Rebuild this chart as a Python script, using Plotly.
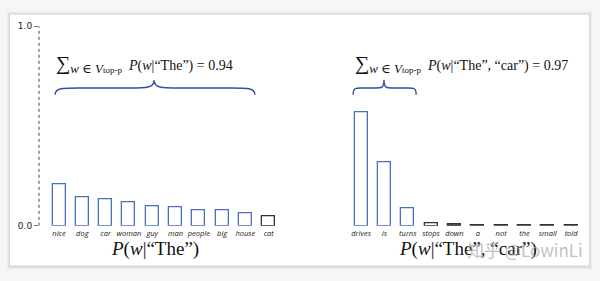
import plotly.graph_objects as go

W, H = 600, 281

left_words = ["nice", "dog", "car", "woman", "guy", "man", "people", "big", "house", "cat"]
left_probs = [0.21, 0.145, 0.135, 0.12, 0.10, 0.095, 0.08, 0.08, 0.065, 0.05]
left_in_top_p = [True] * 9 + [False]

right_words = ["drives", "is", "turns", "stops", "down", "a", "not", "the", "small", "told"]
right_probs = [0.57, 0.32, 0.09, 0.015, 0.01, 0.004, 0.004, 0.004, 0.004, 0.004]
right_in_top_p = [True] * 3 + [False] * 7

SUM = ("<span style='font-size:20px'>∑</span>"
       "<sub><span style='font-size:13px'><i>w</i> ∈ <i>V</i></span>"
       "<span style='font-size:9px'>top-p</span></sub>  ")
left_formula = SUM + "<i>P</i>(<i>w</i>|“The”) = 0.94"
right_formula = SUM + "<i>P</i>(<i>w</i>|“The”, “car”) = 0.97"
left_title = "<i>P</i>(<i>w</i>|“The”)"
right_title = "<i>P</i>(<i>w</i>|“The”, “car”)"

BLUE = "#4a6fbf"
BRACE = "#2d52a0"
DARK = "#333333"


def px(x):
    return x / W


def py(y):
    return 1 - y / H


def bar_styles(flags, words):
    lines, fills = [], []
    for i, f in enumerate(flags):
        if f:
            lines.append(BLUE)
            fills.append("white")
        else:
            lines.append(DARK)
            fills.append("#555555" if words[i] == "down" else "white")
    return lines, fills


fig = go.Figure()

ll, lf = bar_styles(left_in_top_p, left_words)
fig.add_trace(go.Bar(x=list(range(len(left_words))), y=left_probs, width=0.56,
                     marker=dict(color=lf, line=dict(color=ll, width=1.3)),
                     xaxis="x", yaxis="y", showlegend=False, hoverinfo="skip"))
rl, rf = bar_styles(right_in_top_p, right_words)
fig.add_trace(go.Bar(x=list(range(len(right_words))), y=right_probs, width=0.56,
                     marker=dict(color=rf, line=dict(color=rl, width=1.3)),
                     xaxis="x2", yaxis="y2", showlegend=False, hoverinfo="skip"))

ydom = [py(229), py(22)]
tickfont = dict(family="Open Sans, DejaVu Sans", size=7.5, color="#222")
fig.update_layout(
    width=W, height=H, autosize=False,
    margin=dict(l=0, r=0, t=0, b=0),
    paper_bgcolor="#f6f6f6", plot_bgcolor="rgba(0,0,0,0)",
    bargap=0,
    xaxis=dict(domain=[px(39), px(282)], range=[-0.86, 9.57],
               tickvals=list(range(len(left_words))),
               ticktext=[f"<i>{w}</i>" for w in left_words],
               tickfont=tickfont, ticks="", showline=False, showgrid=False,
               zeroline=False, ticklabelstandoff=2),
    yaxis=dict(domain=ydom, range=[0, 1], tickvals=[0, 1], ticktext=["0.0", "1.0"],
               tickfont=dict(family="DejaVu Sans", size=9, color="#222"),
               ticks="outside", ticklen=4, tickcolor="#777", tickwidth=1,
               showgrid=False, zeroline=False, showline=False),
    xaxis2=dict(domain=[px(345), px(590)], range=[-0.69, 9.81],
                tickvals=list(range(len(right_words))),
                ticktext=[f"<i>{w}</i>" for w in right_words],
                tickfont=tickfont, ticks="", showline=False, showgrid=False,
                zeroline=False, anchor="y2", ticklabelstandoff=2),
    yaxis2=dict(domain=ydom, range=[0, 1], visible=False, anchor="x2"),
)

shapes = []
# card shadow + card
for i, c in enumerate(["#ececec", "#e3e3e3", "#d9d9d9"]):
    d = 3 - i
    shapes.append(dict(type="rect", xref="paper", yref="paper", layer="below",
                       x0=px(10 - d), x1=px(589 + d), y0=py(270 + d + 1), y1=py(10 - d),
                       line=dict(width=0), fillcolor=c))
shapes.append(dict(type="rect", xref="paper", yref="paper", layer="below",
                   x0=px(10), x1=px(589), y0=py(270), y1=py(10),
                   line=dict(width=0), fillcolor="white"))
# dotted y axis line
shapes.append(dict(type="line", xref="x domain", yref="y", x0=0, x1=0, y0=0, y1=1,
                   line=dict(color="#444", width=1, dash="dot")))


def brace(xref, x0, x1, xc, y_end, y_mid, y_cusp):
    a = (x1 - x0)
    k = a * 0.04
    pe, pm, pc = py(y_end), py(y_mid), py(y_cusp)
    path = (f"M {x0},{pe} C {x0},{pm} {x0 + k},{pm} {x0 + 3 * k},{pm} "
            f"L {xc - 3 * k},{pm} C {xc - k},{pm} {xc},{pm} {xc},{pc} "
            f"C {xc},{pm} {xc + k},{pm} {xc + 3 * k},{pm} "
            f"L {x1 - 3 * k},{pm} C {x1 - k},{pm} {x1},{pm} {x1},{pe}")
    return dict(type="path", xref=xref, yref="paper", path=path,
                line=dict(color=BRACE, width=1.4))


shapes.append(brace("x", -0.17, 8.41, 4.08, 93, 86, 78))
shapes.append(brace("x2", -0.34, 2.36, 0.98, 93, 86, 77.5))
fig.update_layout(shapes=shapes)

serif = "Liberation Serif, DejaVu Serif, serif"
ann = [
    dict(x=px(54), y=py(61), text=left_formula, xanchor="left", yanchor="middle",
         font=dict(family=serif, size=14, color="#111")),
    dict(x=px(353), y=py(61), text=right_formula, xanchor="left", yanchor="middle",
         font=dict(family=serif, size=14, color="#111")),
    dict(x=px(155), y=py(253), text=left_title, xanchor="center", yanchor="middle",
         font=dict(family=serif, size=19, color="#111")),
    dict(x=px(468), y=py(253), text=right_title, xanchor="center", yanchor="middle",
         font=dict(family=serif, size=19, color="#111")),
    dict(x=px(585), y=py(254), text="知乎 @LowinLi", xanchor="right", yanchor="middle",
         font=dict(family="Noto Sans CJK SC, Noto Sans", size=17, color="rgba(170,170,170,0.75)")),
]
for a in ann:
    a.update(xref="paper", yref="paper", showarrow=False)
fig.update_layout(annotations=ann)

fig.write_html("out.html")
